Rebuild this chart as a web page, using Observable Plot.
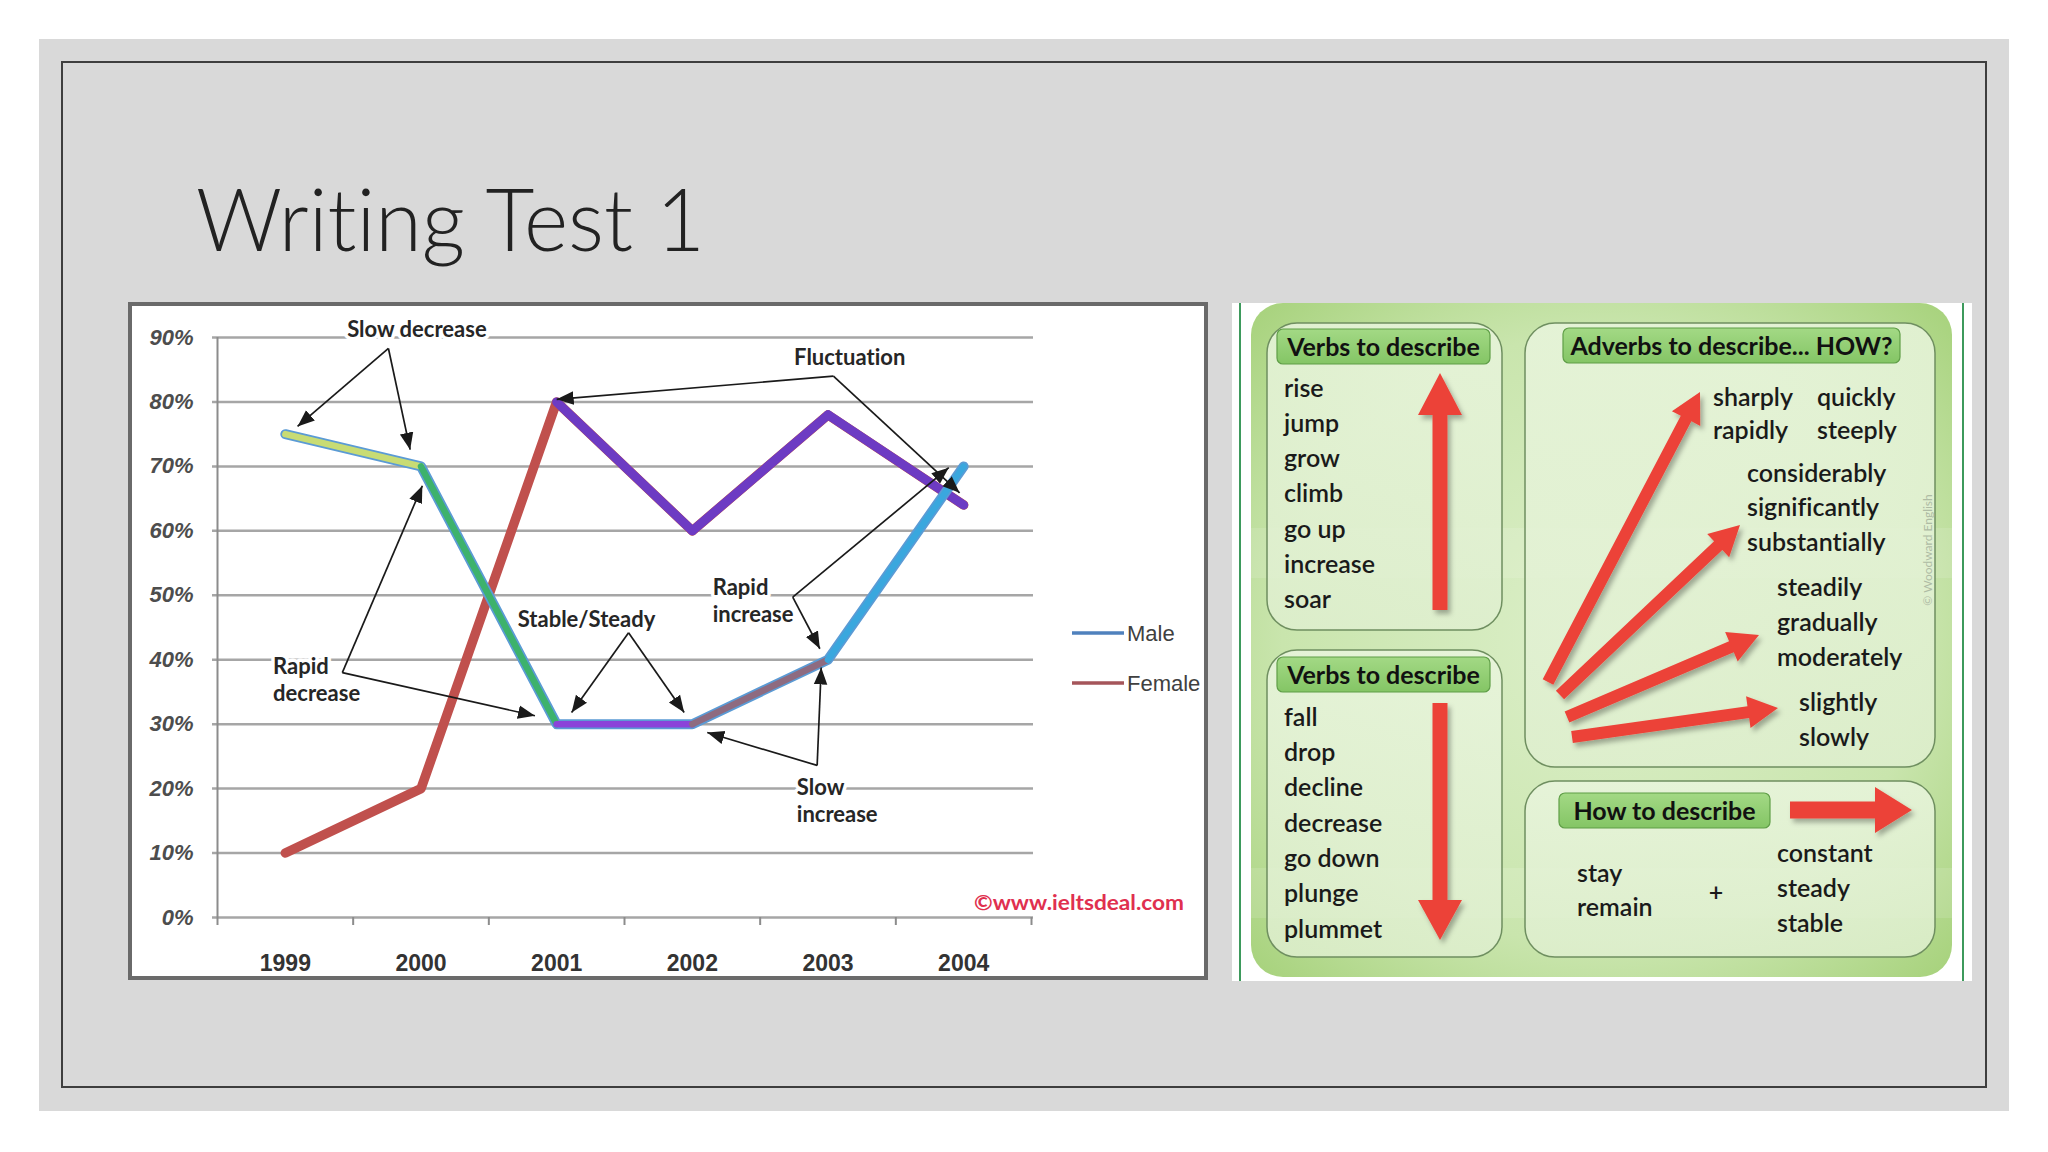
<!DOCTYPE html>
<html>
<head>
<meta charset="utf-8">
<script src="https://cdn.jsdelivr.net/npm/d3@7"></script>
<script src="https://cdn.jsdelivr.net/npm/@observablehq/plot@0.6"></script>
<style>
html, body { margin: 0; padding: 0; background: #ffffff; }
body { width: 2048px; height: 1152px; position: relative; overflow: hidden; }
#slide { position: absolute; left: 39px; top: 39px; width: 1970px; height: 1072px; background: #d9d9d9; }
#frame { position: absolute; left: 61px; top: 61px; width: 1926px; height: 1027px; border: 2px solid #3f3f3f; box-sizing: border-box; }
#chartbox { position: absolute; left: 128px; top: 302px; width: 1080px; height: 678px; background: #ffffff; }
#chart { position: absolute; left: 128px; top: 302px; }
#chartborder { position: absolute; left: 128px; top: 302px; width: 1080px; height: 678px; border: 4px solid #6a6a6a; box-sizing: border-box; pointer-events: none; }
#overlay { position: absolute; left: 0; top: 0; pointer-events: none; }
#panel { position: absolute; left: 1232px; top: 303px; }
text { font-variant-ligatures: none; }
</style>
</head>
<body>
<div id="slide"></div>
<div id="frame"></div>
<div id="chartbox"></div>
<div id="chart"></div>
<div id="chartborder"></div>
<svg id="overlay" width="2048" height="1152"></svg>
<svg id="panel" width="740" height="678"></svg>
<script>
// ---------- chart data ----------
const years = [1999, 2000, 2001, 2002, 2003, 2004];
const maleValues = [75, 70, 30, 30, 40, 70];
const femaleValues = [10, 20, 80, 60, 78, 64];
const yTicks = [0, 10, 20, 30, 40, 50, 60, 70, 80, 90];
const boundaryTicks = [1998.5, 1999.5, 2000.5, 2001.5, 2002.5, 2003.5, 2004.5];
const seriesNames = ["Male", "Female"];
const seriesColors = ["#4f81bd", "#a5555a"];
// highlighter colours painted over each year-to-year segment
const maleHighlight = ["#c8dc74", "#3db26c", "#8b43d9", "#8e6b80", "#3aa7de"];
const femaleHighlight = [null, null, "#6d3bc3", "#6d3bc3", "#6d3bc3"];

// annotation labels & arrows (data space: year, percent)
const notesCentered = [
  {label: "Slow decrease", x: 1999.97, y: 91.2},
  {label: "Stable/Steady", x: 2001.22, y: 46.1},
  {label: "Fluctuation", x: 2003.16, y: 86.9}
];
const notesLeft = [
  {label: "Rapid\ndecrease", x: 1998.91, y: 37.0},
  {label: "Rapid\nincrease", x: 2002.15, y: 49.3},
  {label: "Slow\nincrease", x: 2002.77, y: 18.2}
];
const noteArrows = [
  {x1: 1999.76, y1: 88.3, x2: 1999.09, y2: 76.2},
  {x1: 1999.76, y1: 88.3, x2: 1999.92, y2: 72.6},
  {x1: 1999.42, y1: 38.0, x2: 2000.01, y2: 67.0},
  {x1: 1999.42, y1: 38.0, x2: 2000.84, y2: 31.3},
  {x1: 2001.53, y1: 44.2, x2: 2001.11, y2: 31.8},
  {x1: 2001.53, y1: 44.2, x2: 2001.94, y2: 31.8},
  {x1: 2003.04, y1: 84.0, x2: 2001.00, y2: 80.4},
  {x1: 2003.04, y1: 84.0, x2: 2003.97, y2: 65.9},
  {x1: 2002.74, y1: 49.7, x2: 2002.94, y2: 41.7},
  {x1: 2002.74, y1: 49.7, x2: 2003.89, y2: 69.8},
  {x1: 2002.92, y1: 23.6, x2: 2002.11, y2: 28.7},
  {x1: 2002.92, y1: 23.6, x2: 2002.95, y2: 38.8}
];
const creditText = "\u00A9www.ieltsdeal.com";
const titleText = "Writing Test 1";

// ---------- infographic word lists ----------
const upVerbs = ["rise", "jump", "grow", "climb", "go up", "increase", "soar"];
const downVerbs = ["fall", "drop", "decline", "decrease", "go down", "plunge", "plummet"];
const adverbsSharp = [["sharply", "quickly"], ["rapidly", "steeply"]];
const adverbsConsiderable = ["considerably", "significantly", "substantially"];
const adverbsSteady = ["steadily", "gradually", "moderately"];
const adverbsSlight = ["slightly", "slowly"];
const stayVerbs = ["stay", "remain"];
const stableWords = ["constant", "steady", "stable"];
const headers = ["Verbs to describe", "Verbs to describe", "Adverbs to describe... HOW?", "How to describe"];

// ---------- chart ----------
const maleRows = years.map((y, i) => ({year: y, value: maleValues[i]}));
const femaleRows = years.map((y, i) => ({year: y, value: femaleValues[i]}));
function segments(values, colors) {
  return values.slice(0, -1)
    .map((v, i) => ({x1: years[i], y1: v, x2: years[i + 1], y2: values[i + 1], color: colors[i]}))
    .filter(d => d.color);
}
const maleSegs = segments(maleValues, maleHighlight);
const femaleSegs = segments(femaleValues, femaleHighlight);

function solidHead(color) {
  const ns = "http://www.w3.org/2000/svg";
  const m = document.createElementNS(ns, "marker");
  m.setAttribute("viewBox", "-10 -5 10 10");
  m.setAttribute("markerWidth", 17);
  m.setAttribute("markerHeight", 17);
  m.setAttribute("markerUnits", "userSpaceOnUse");
  m.setAttribute("refX", 0);
  m.setAttribute("refY", 0);
  m.setAttribute("orient", "auto");
  const p = document.createElementNS(ns, "path");
  p.setAttribute("d", "M-10,-4L0,0L-10,4Z");
  p.setAttribute("fill", color);
  p.setAttribute("stroke", "none");
  m.appendChild(p);
  return m;
}

const noteFont = {fontFamily: "Lato", fontWeight: "bold", fontSize: 22, fill: "#262626",
  stroke: "white", strokeWidth: 7, paintOrder: "stroke"};

const chart = Plot.plot({
  width: 1080,
  height: 678,
  marginLeft: 89,
  marginRight: 177,
  marginTop: 35,
  marginBottom: 63,
  x: {domain: [1998.5, 2004.5], label: null},
  y: {domain: [0, 90], label: null},
  style: {background: "transparent", overflow: "visible", fontFamily: "Liberation Sans"},
  marks: [
    Plot.gridY(yTicks, {stroke: "#a6a6a6", strokeWidth: 2.5, strokeOpacity: 1, insetLeft: -5, insetRight: -2}),
    Plot.ruleX([1998.5], {y1: 0, y2: 90, stroke: "#8c8c8c", strokeWidth: 2}),
    Plot.axisX(boundaryTicks, {tickSize: 8, tickFormat: () => "", stroke: "#8c8c8c", strokeWidth: 2}),
    Plot.axisX(years, {tickSize: 0, tickPadding: 37, tickFormat: d => String(d), fontSize: 23,
      fontWeight: "bold", fill: "#333333"}),
    Plot.axisY(yTicks, {tickSize: 0, tickPadding: 24, tickFormat: d => d + "%", fontSize: 22,
      fontWeight: "bold", fontStyle: "italic", fill: "#4d4d4d"}),
    // Female
    Plot.line(femaleRows, {x: "year", y: "value", stroke: "#c0504d", strokeWidth: 9.5,
      strokeLinecap: "round", strokeLinejoin: "round"}),
    Plot.link(femaleSegs, {x1: "x1", y1: "y1", x2: "x2", y2: "y2", stroke: "color", strokeWidth: 9,
      strokeLinecap: "round"}),
    // Male
    Plot.line(maleRows, {x: "year", y: "value", stroke: "#5b9bd5", strokeWidth: 10,
      strokeLinecap: "round", strokeLinejoin: "round"}),
    Plot.link(maleSegs, {x1: "x1", y1: "y1", x2: "x2", y2: "y2", stroke: "color", strokeWidth: 6.5,
      strokeLinecap: "round"}),
    // annotations
    Plot.link(noteArrows, {x1: "x1", y1: "y1", x2: "x2", y2: "y2", stroke: "#1a1a1a",
      strokeWidth: 1.7, markerEnd: solidHead}),
    Plot.text(notesCentered, {x: "x", y: "y", text: "label", textAnchor: "middle", ...noteFont}),
    Plot.text(notesLeft, {x: "x", y: "y", text: "label", textAnchor: "start", lineHeight: 1.23, ...noteFont})
  ]
});
document.getElementById("chart").appendChild(chart);

// ---------- overlay: title, legend, credit ----------
const ov = d3.select("#overlay");
ov.append("text")
  .attr("x", 196).attr("y", 251)
  .attr("font-family", "Lato").attr("font-weight", 300).attr("font-size", 86)
  .attr("fill", "#222222")
  .attr("textLength", 509).attr("lengthAdjust", "spacingAndGlyphs")
  .text(titleText);

seriesNames.forEach((name, i) => {
  const y = 633 + i * 50;
  ov.append("line").attr("x1", 1072).attr("x2", 1124).attr("y1", y).attr("y2", y)
    .attr("stroke", seriesColors[i]).attr("stroke-width", 3.5);
  ov.append("text").attr("x", 1127).attr("y", y).attr("dy", "0.35em")
    .attr("font-family", "Liberation Sans").attr("font-size", 22).attr("fill", "#404040")
    .text(name);
});

ov.append("text").attr("x", 974).attr("y", 903).attr("dy", "0.35em")
  .attr("font-family", "Lato").attr("font-weight", "bold").attr("font-size", 21)
  .attr("fill", "#e0304f").attr("textLength", 210).attr("lengthAdjust", "spacingAndGlyphs")
  .text(creditText);

// ---------- infographic panel ----------
const pn = d3.select("#panel");
const defs = pn.append("defs");
const rg = defs.append("radialGradient").attr("id", "panelGrad").attr("cx", "50%").attr("cy", "50%").attr("r", "70%");
rg.append("stop").attr("offset", "0%").attr("stop-color", "#dcefc9");
rg.append("stop").attr("offset", "65%").attr("stop-color", "#c9e5ad");
rg.append("stop").attr("offset", "100%").attr("stop-color", "#a7d27c");
const bg = defs.append("linearGradient").attr("id", "boxGrad").attr("x1", 0).attr("y1", 0).attr("x2", 0).attr("y2", 1);
bg.append("stop").attr("offset", "0%").attr("stop-color", "#e9f5dd");
bg.append("stop").attr("offset", "100%").attr("stop-color", "#dfefcf");
const hg = defs.append("linearGradient").attr("id", "headGrad").attr("x1", 0).attr("y1", 0).attr("x2", 0).attr("y2", 1);
hg.append("stop").attr("offset", "0%").attr("stop-color", "#a3d985");
hg.append("stop").attr("offset", "100%").attr("stop-color", "#84c565");
const sh = defs.append("filter").attr("id", "shadow").attr("x", "-20%").attr("y", "-20%").attr("width", "140%").attr("height", "140%");
sh.append("feDropShadow").attr("dx", 3).attr("dy", 4).attr("stdDeviation", 2.5)
  .attr("flood-color", "#000").attr("flood-opacity", 0.3);

pn.append("rect").attr("x", 0).attr("y", 0).attr("width", 740).attr("height", 678).attr("fill", "#ffffff");
pn.append("line").attr("x1", 8).attr("x2", 8).attr("y1", 0).attr("y2", 678).attr("stroke", "#3d9a5c").attr("stroke-width", 2);
pn.append("line").attr("x1", 731).attr("x2", 731).attr("y1", 0).attr("y2", 678).attr("stroke", "#3d9a5c").attr("stroke-width", 2);
pn.append("rect").attr("x", 19).attr("y", 0).attr("width", 701).attr("height", 674).attr("rx", 32)
  .attr("fill", "url(#panelGrad)");
// faint horizontal watermark bands
pn.append("rect").attr("x", 19).attr("y", 225).attr("width", 701).attr("height", 50)
  .attr("fill", "#ffffff").attr("opacity", 0.12);
pn.append("rect").attr("x", 19).attr("y", 565).attr("width", 701).attr("height", 50)
  .attr("fill", "#ffffff").attr("opacity", 0.12);

const boxes = [
  {x: 35, y: 20, w: 235, h: 307},
  {x: 35, y: 347, w: 235, h: 307},
  {x: 293, y: 20, w: 410, h: 444},
  {x: 293, y: 478, w: 410, h: 176}
];
const headBoxes = [
  {x: 45, y: 26, w: 213, h: 35},
  {x: 45, y: 354, w: 213, h: 35},
  {x: 331, y: 25, w: 337, h: 35},
  {x: 327, y: 490, w: 211, h: 35}
];
boxes.forEach(b => {
  pn.append("rect").attr("x", b.x).attr("y", b.y).attr("width", b.w).attr("height", b.h).attr("rx", 30)
    .attr("fill", "url(#boxGrad)").attr("fill-opacity", 0.85).attr("stroke", "#6f8f60").attr("stroke-width", 1.5);
});
headBoxes.forEach((b, i) => {
  pn.append("rect").attr("x", b.x).attr("y", b.y).attr("width", b.w).attr("height", b.h).attr("rx", 6)
    .attr("fill", "url(#headGrad)").attr("stroke", "#5f9e47").attr("stroke-width", 1.2);
  pn.append("text").attr("x", b.x + b.w / 2).attr("y", b.y + b.h / 2).attr("dy", "0.36em")
    .attr("text-anchor", "middle").attr("font-family", "Lato").attr("font-weight", "bold")
    .attr("font-size", 25).attr("fill", "#111").text(headers[i]);
});

const wordStyle = sel => sel.attr("font-family", "Lato").attr("font-weight", 600).attr("font-size", 25)
  .attr("fill", "#1a1a1a").attr("dy", "0.35em");
function column(words, x, y0, step) {
  words.forEach((w, i) => pn.append("text").attr("x", x).attr("y", y0 + i * step).call(wordStyle).text(w));
}
column(upVerbs, 52, 85, 35.2);
column(downVerbs, 52, 414, 35.3);
adverbsSharp.forEach((row, i) => {
  pn.append("text").attr("x", 481).attr("y", 94 + i * 33.5).call(wordStyle).text(row[0]);
  pn.append("text").attr("x", 585).attr("y", 94 + i * 33.5).call(wordStyle).text(row[1]);
});
column(adverbsConsiderable, 515, 170, 34.5);
column(adverbsSteady, 545, 284, 35);
column(adverbsSlight, 567, 399, 35.5);
column(stayVerbs, 345, 570, 34.5);
pn.append("text").attr("x", 484).attr("y", 589).attr("text-anchor", "middle").call(wordStyle).text("+");
column(stableWords, 545, 550, 35);

pn.append("text").attr("transform", "translate(700 247) rotate(-90)").attr("text-anchor", "middle")
  .attr("font-family", "Lato").attr("font-size", 12).attr("fill", "#aebba4").text("\u00A9 Woodward English");

function arrowPath(x1, y1, x2, y2, sw, hw, hl) {
  const dx = x2 - x1, dy = y2 - y1, L = Math.hypot(dx, dy);
  const ux = dx / L, uy = dy / L, px = -uy, py = ux;
  const bx = x2 - ux * hl, by = y2 - uy * hl;
  const pts = [
    [x1 + px * sw / 2, y1 + py * sw / 2], [bx + px * sw / 2, by + py * sw / 2],
    [bx + px * hw / 2, by + py * hw / 2], [x2, y2], [bx - px * hw / 2, by - py * hw / 2],
    [bx - px * sw / 2, by - py * sw / 2], [x1 - px * sw / 2, y1 - py * sw / 2]
  ];
  return "M" + pts.map(p => p.join(",")).join("L") + "Z";
}
const redArrows = [
  [208, 307, 208, 70, 15, 44, 42],
  [208, 400, 208, 637, 15, 44, 40],
  [316, 379, 468, 89, 12, 32, 30],
  [328, 392, 508, 222, 12, 32, 30],
  [335, 414, 527, 332, 12, 32, 30],
  [340, 434, 546, 405, 12, 32, 30],
  [558, 507, 680, 507, 17, 46, 37]
];
redArrows.forEach(a => {
  pn.append("path").attr("d", arrowPath(...a)).attr("fill", "#ec4339").attr("filter", "url(#shadow)");
});
</script>
</body>
</html>
